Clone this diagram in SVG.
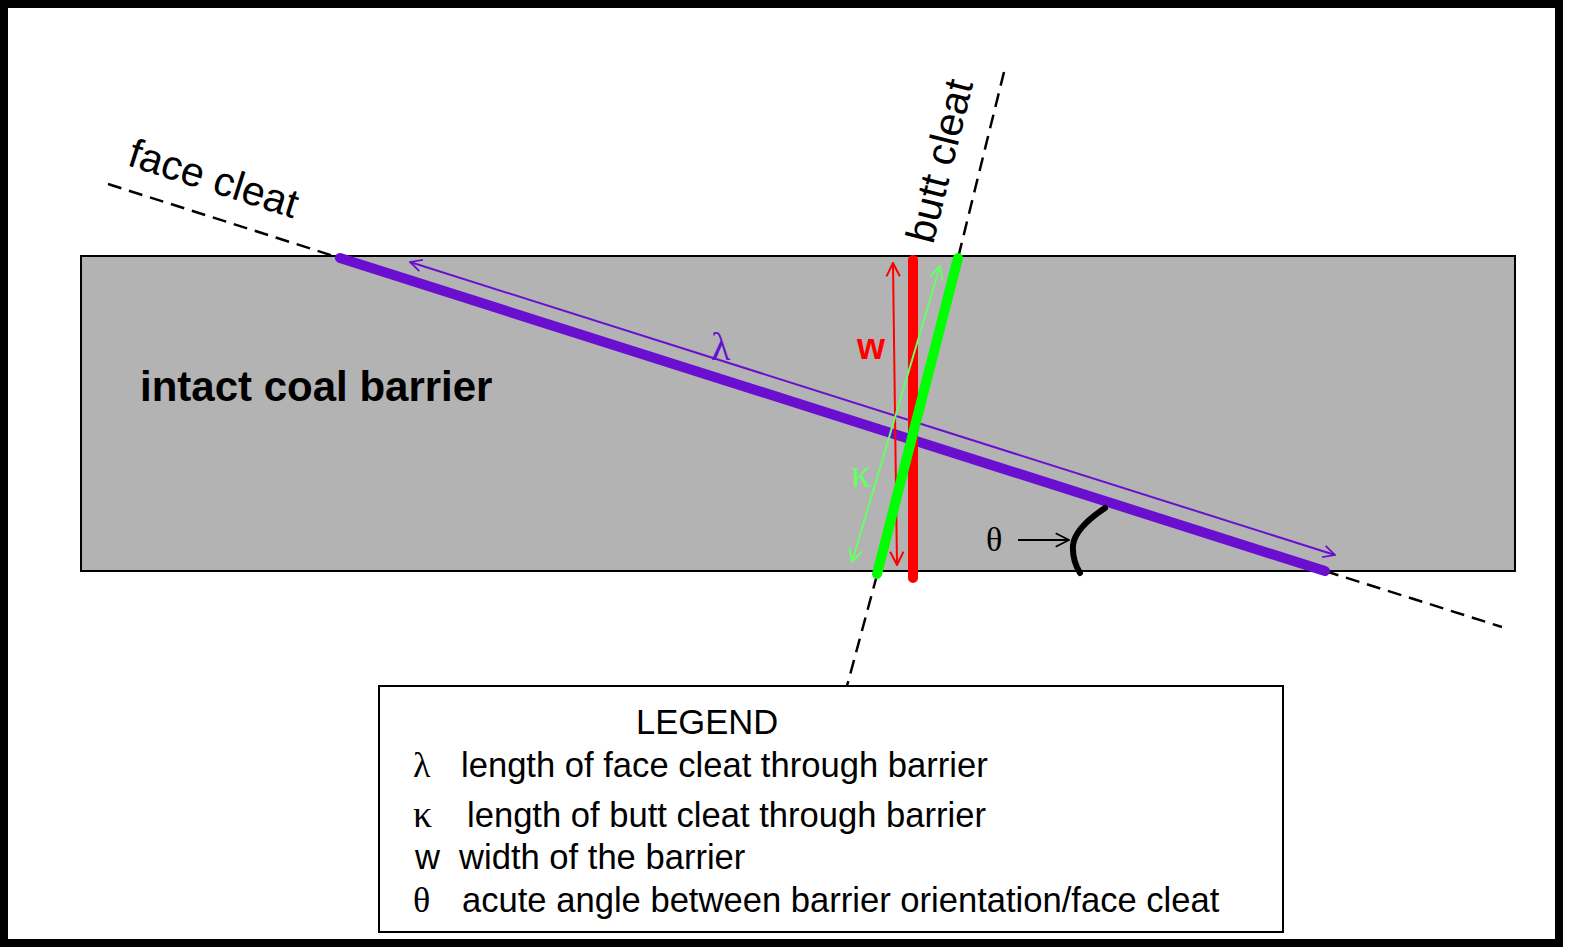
<svg xmlns="http://www.w3.org/2000/svg" width="1569" height="950" viewBox="0 0 1569 950">
<style>
.s{font-family:"Liberation Sans",Arial,sans-serif}
.g{font-family:"Liberation Serif","Times New Roman",serif}
.dash{stroke:#000;stroke-width:2.5;stroke-dasharray:14 8;fill:none}
.lg{font-size:34.6px}
</style>
<defs>
<marker id="ap" viewBox="0 0 12 12" refX="11" refY="6" markerWidth="14" markerHeight="14" markerUnits="userSpaceOnUse" orient="auto-start-reverse"><path d="M1,1 L11,6 L1,11" fill="none" stroke="#6a0fd0" stroke-width="1.5"/></marker>
<marker id="ar" viewBox="0 0 12 12" refX="11" refY="6" markerWidth="16" markerHeight="16" markerUnits="userSpaceOnUse" orient="auto-start-reverse"><path d="M1,1 L11,6 L1,11" fill="none" stroke="#f00" stroke-width="1.5"/></marker>
<marker id="ag" viewBox="0 0 12 12" refX="11" refY="6" markerWidth="16" markerHeight="16" markerUnits="userSpaceOnUse" orient="auto-start-reverse"><path d="M1,1 L11,6 L1,11" fill="none" stroke="#6f6" stroke-width="1.5"/></marker>
<marker id="ak" viewBox="0 0 12 12" refX="11" refY="6" markerWidth="16" markerHeight="16" markerUnits="userSpaceOnUse" orient="auto"><path d="M1,1 L11,6 L1,11" fill="none" stroke="#000" stroke-width="1.2"/></marker>
</defs>
<rect width="1569" height="950" fill="#fff"/>
<rect x="4" y="4" width="1555" height="939" fill="none" stroke="#000" stroke-width="8"/>
<g id="barrier">
<rect x="81" y="256" width="1434" height="315" fill="#b3b3b3" stroke="#000" stroke-width="2"/>
<text x="140" y="401" class="s" font-size="42" font-weight="bold">intact coal barrier</text>
</g>
<g id="connectors">
<line class="dash" x1="108" y1="184" x2="340" y2="258"/>
<line class="dash" x1="1325" y1="571" x2="1502" y2="627"/>
<line class="dash" x1="1004" y1="72" x2="958" y2="258"/>
<line class="dash" x1="877" y1="575" x2="847" y2="686"/>
<line x1="340" y1="258" x2="1325" y2="571" stroke="#6a0fd0" stroke-width="10" stroke-linecap="round"/>
<line x1="410" y1="262" x2="1335" y2="555" stroke="#6a0fd0" stroke-width="2" marker-start="url(#ap)" marker-end="url(#ap)"/>
<line x1="893" y1="263" x2="897" y2="565" stroke="#f00" stroke-width="2" marker-start="url(#ar)" marker-end="url(#ar)"/>
<line x1="913" y1="260" x2="913" y2="578" stroke="#f00" stroke-width="10" stroke-linecap="round"/>
<line x1="940" y1="266" x2="852" y2="562" stroke="#6f6" stroke-width="2" marker-start="url(#ag)" marker-end="url(#ag)"/>
<line x1="958" y1="258" x2="877" y2="574" stroke="#0f0" stroke-width="10" stroke-linecap="round"/>
<path d="M1105,508 Q1075,528 1073,545 Q1072,560 1080,573" fill="none" stroke="#000" stroke-width="6" stroke-linecap="round"/>
<line x1="1018" y1="540" x2="1069" y2="540" stroke="#000" stroke-width="2" marker-end="url(#ak)"/>
</g>
<g id="labels">
<text x="0" y="0" class="s" font-size="41" transform="translate(126,165) rotate(17.7)">face cleat</text>
<text x="0" y="0" class="s" font-size="41" transform="translate(933,245) rotate(-76)">butt cleat</text>
<text x="711" y="360" class="g" font-size="40" fill="#6a0fd0">λ</text>
<text x="857" y="359" class="s" font-size="36" font-weight="bold" fill="#f00">w</text>
<text x="851" y="487" class="g" font-size="40" fill="#6f6">κ</text>
<text x="986" y="551" class="g" font-size="34">θ</text>
</g>
<g id="legend">
<rect x="379" y="686" width="904" height="246" fill="#fff" stroke="#000" stroke-width="2"/>
<text x="636" y="734" class="s lg">LEGEND</text>
<text x="413" y="777" class="g" font-size="36">λ</text>
<text x="461" y="777" class="s lg">length of face cleat through barrier</text>
<text x="413" y="827" class="g" font-size="38">κ</text>
<text x="467" y="827" class="s lg">length of butt cleat through barrier</text>
<text x="415" y="869" class="s lg">w</text>
<text x="459" y="869" class="s lg">width of the barrier</text>
<text x="413" y="912" class="g" font-size="36">θ</text>
<text x="462" y="912" class="s lg">acute angle between barrier orientation/face cleat</text>
</g>
</svg>
